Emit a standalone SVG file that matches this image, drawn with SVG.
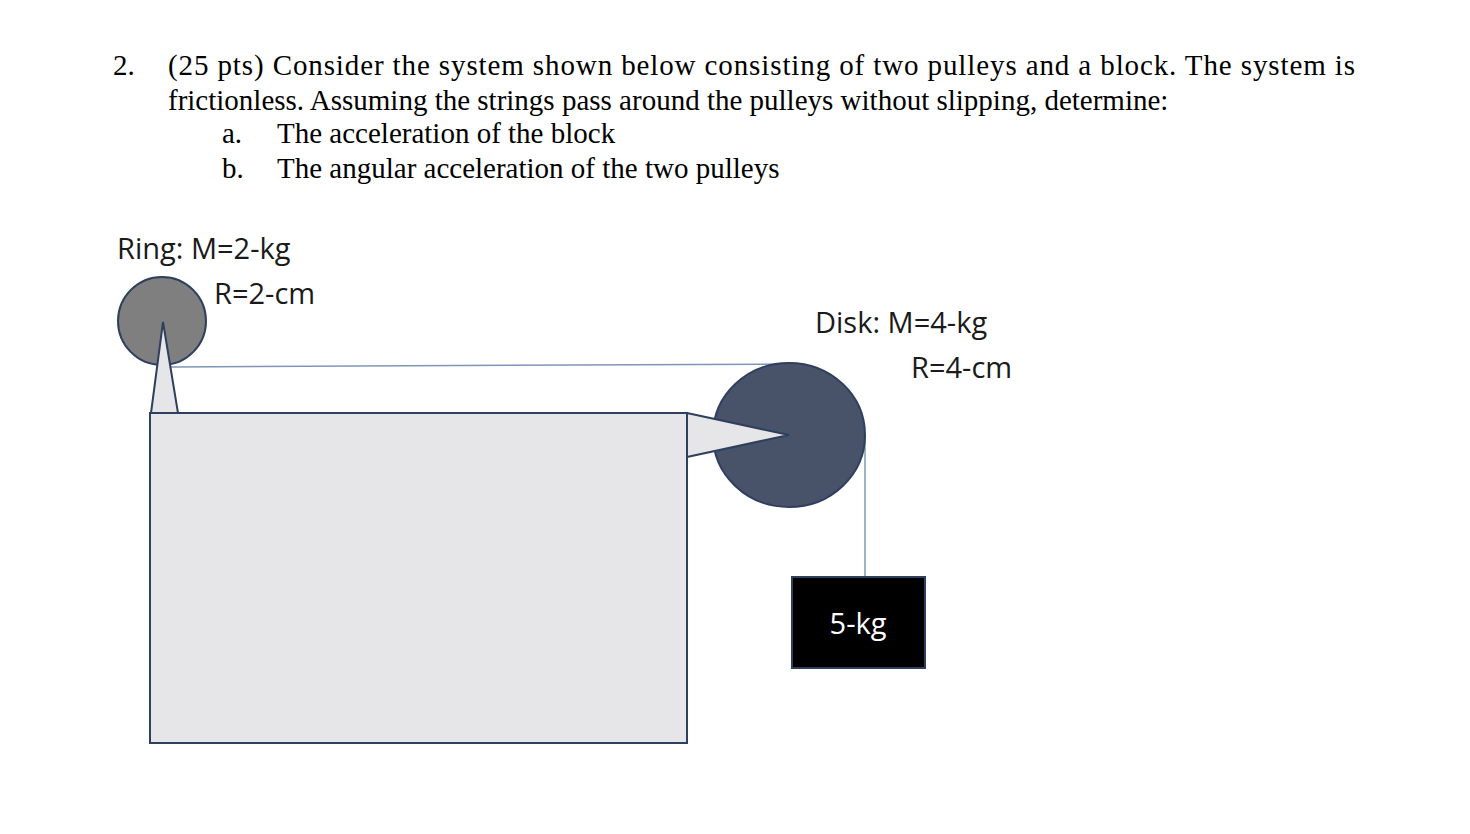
<svg xmlns="http://www.w3.org/2000/svg" width="1470" height="834" viewBox="0 0 1470 834">
<style>
.t{font-family:"Liberation Serif",serif;font-size:29px;fill:#000}
.l{font-family:"Open Sans","Liberation Sans",sans-serif;font-size:29px;fill:#1a1a1a}
.s{stroke:#2f3f5e;stroke-width:2}
.str{stroke:#8096b8;stroke-width:1.5;fill:none}
</style>
<rect width="1470" height="834" fill="#fff"/>
<g id="question">
<text class="t" x="113" y="75">2.</text>
<text class="t" x="168" y="75" textLength="1187" lengthAdjust="spacing">(25 pts) Consider the system shown below consisting of two pulleys and a block.  The system is</text>
<text class="t" x="168" y="110">frictionless.  Assuming the strings pass around the pulleys without slipping, determine:</text>
<text class="t" x="222" y="143">a.</text>
<text class="t" x="277" y="143">The acceleration of the block</text>
<text class="t" x="222" y="178">b.</text>
<text class="t" x="277" y="178">The angular acceleration of the two pulleys</text>
</g>
<g id="connectors">
<line class="str" x1="170" y1="367" x2="790" y2="364"/>
<line class="str" x1="865" y1="435" x2="865" y2="577"/>
</g>
<g id="ring">
<circle class="s" cx="162" cy="321" r="44" fill="#7f7f7f"/>
<polygon class="s" points="163,322 151,413 178,413" fill="#e6e6e8"/>
</g>
<g id="block">
<rect class="s" x="150" y="413" width="537" height="330" fill="#e6e6e8"/>
</g>
<g id="disk">
<ellipse class="s" cx="789" cy="435" rx="76" ry="72" fill="#48536a"/>
<polygon class="s" points="687,413 687,457 789,435" fill="#e6e6e8"/>
</g>
<g id="mass">
<rect x="792" y="577" width="133" height="91" fill="#000" stroke="#2f3f5e" stroke-width="2"/>
<text class="l" x="858" y="634" fill="#fff" style="fill:#fff" text-anchor="middle">5-kg</text>
</g>
<g id="labels">
<text class="l" x="117" y="259">Ring: M=2-kg</text>
<text class="l" x="214" y="304">R=2-cm</text>
<text class="l" x="815" y="333">Disk: M=4-kg</text>
<text class="l" x="911" y="378">R=4-cm</text>
</g>
</svg>
